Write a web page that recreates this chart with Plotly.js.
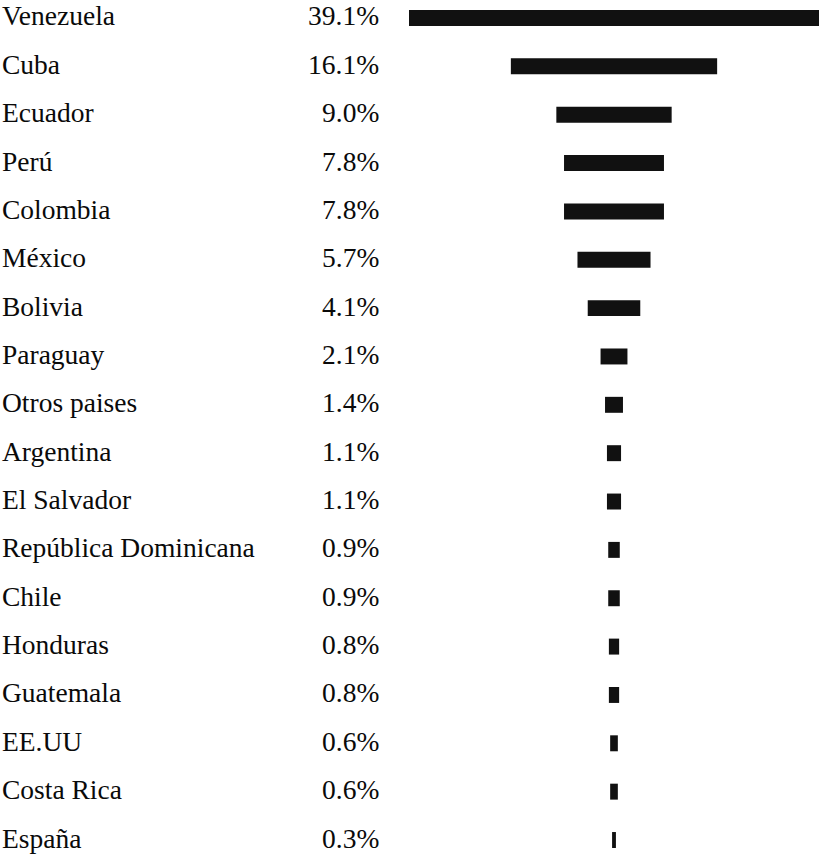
<!DOCTYPE html>
<html>
<head>
<meta charset="utf-8">
<script src="https://cdn.plot.ly/plotly-3.0.1.min.js"></script>
<style>html,body{margin:0;padding:0;background:#fff;}#chart{width:819px;height:855px;}</style>
</head>
<body>
<div id="chart"></div>
<script>
const countries = ["Venezuela","Cuba","Ecuador","Perú","Colombia","México","Bolivia","Paraguay","Otros paises","Argentina","El Salvador","República Dominicana","Chile","Honduras","Guatemala","EE.UU","Costa Rica","España"];
const shares = [39.1,16.1,9.0,7.8,7.8,5.7,4.1,2.1,1.4,1.1,1.1,0.9,0.9,0.8,0.8,0.6,0.6,0.3];

const font = {family: "Liberation Serif, Times New Roman, serif", size: 27.5, color: "#0a0a0a"};
const annotations = [];
countries.forEach((c, i) => {
  annotations.push({xref: "paper", yref: "y", x: -0.996, y: c, text: c, showarrow: false, xanchor: "left", yanchor: "middle", yshift: 2, borderpad: 0, font: font});
  annotations.push({xref: "paper", yref: "y", x: -0.070, y: c, text: shares[i].toFixed(1) + "%", showarrow: false, xanchor: "right", yanchor: "middle", yshift: 2, borderpad: 0, font: font});
});

const trace = {
  type: "funnel",
  y: countries,
  x: shares,
  orientation: "h",
  marker: {color: "#111", line: {width: 0}},
  textinfo: "none",
  hoverinfo: "none",
  connector: {visible: false}
};

const layout = {
  width: 819, height: 855,
  margin: {l: 409, r: 0, t: 0, b: 0},
  paper_bgcolor: "#fff", plot_bgcolor: "#fff",
  showlegend: false,
  funnelgap: 0.67,
  xaxis: {range: [-16, 16], visible: false, fixedrange: true},
  yaxis: {type: "category", range: [17.31, -0.372], visible: false, fixedrange: true},
  annotations: annotations
};

Plotly.newPlot("chart", [trace], layout, {displayModeBar: false, staticPlot: true});
</script>
</body>
</html>
